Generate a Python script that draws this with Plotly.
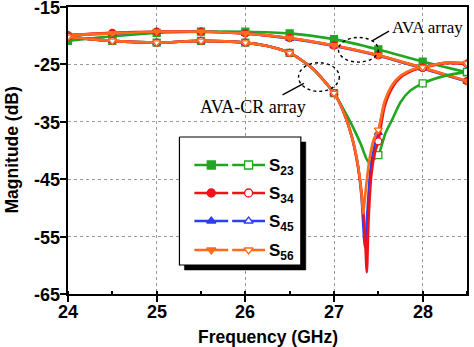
import plotly.graph_objects as go

# ---------------- data (frequency in GHz, magnitude in dB) ----------------
# AVA array (filled markers)
ava_freq = [24.0, 24.5, 25.0, 25.5, 26.0, 26.5, 27.0, 27.5, 28.0, 28.5]
ava_s23 = [-20.9, -20.1, -19.5, -19.3, -19.3, -19.6, -20.6, -22.4, -24.5, -26.4]
ava_s34 = [-19.9, -19.5, -19.3, -19.3, -19.6, -20.4, -21.7, -23.4, -25.6, -27.9]
ava_s45 = [-19.9, -19.6, -19.3, -19.3, -19.6, -20.5, -21.8, -23.5, -25.7, -28.0]
ava_s56 = [-19.9, -19.6, -19.3, -19.3, -19.6, -20.4, -21.7, -23.4, -25.6, -27.9]

# AVA-CR array (open markers)
cr_s23_freq = [24.0, 24.5, 25.0, 25.5, 26.0, 26.25, 26.5, 26.75, 27.0, 27.1, 27.2,
               27.3, 27.39, 27.45, 27.5, 27.58, 27.66, 27.75, 27.85, 28.0, 28.25, 28.5]
cr_s23 = [-20.2, -20.9, -21.2, -20.9, -21.2, -21.8, -23.0, -25.6, -30.0, -32.6, -35.5,
          -38.8, -42.0, -41.5, -40.8, -37.0, -34.5, -31.6, -29.7, -28.3, -27.0, -26.3]

cr_s34_freq = [24.0, 24.5, 25.0, 25.5, 26.0, 26.25, 26.5, 26.75, 27.0, 27.1, 27.2,
               27.27, 27.32, 27.35, 27.37, 27.39, 27.42, 27.46, 27.5, 27.57, 27.66,
               27.75, 27.9, 28.0, 28.25, 28.5]
cr_s34 = [-20.2, -20.9, -21.2, -20.9, -21.2, -21.8, -23.0, -25.6, -30.0, -33.0, -37.6,
          -42.8, -48.5, -55.0, -61.2, -52.0, -44.5, -40.4, -38.4, -32.4, -29.0,
          -27.3, -26.0, -25.6, -24.8, -24.9]

cr_s45_freq = [24.0, 24.5, 25.0, 25.5, 26.0, 26.25, 26.5, 26.75, 27.0, 27.1, 27.2,
               27.27, 27.31, 27.35, 27.38, 27.41, 27.46, 27.5, 27.57, 27.66, 27.75,
               27.9, 28.0, 28.25, 28.5]
cr_s45 = [-20.2, -20.9, -21.2, -20.9, -21.2, -21.8, -23.0, -25.6, -30.0, -33.0, -37.5,
          -42.6, -48.0, -56.9, -50.0, -43.5, -39.0, -36.9, -31.8, -28.7, -27.1,
          -25.9, -25.5, -24.7, -24.8]

cr_s56_freq = [24.0, 24.5, 25.0, 25.5, 26.0, 26.25, 26.5, 26.75, 27.0, 27.1, 27.2,
               27.27, 27.31, 27.33, 27.36, 27.4, 27.45, 27.5, 27.57, 27.66, 27.75,
               27.9, 28.0, 28.25, 28.5]
cr_s56 = [-20.2, -20.9, -21.2, -20.9, -21.2, -21.8, -23.0, -25.6, -30.0, -33.0, -37.5,
          -42.5, -47.5, -51.0, -46.5, -41.5, -38.0, -36.4, -31.5, -28.5, -27.0,
          -25.8, -25.5, -24.7, -24.8]

series_names = ["S<sub>23</sub>", "S<sub>34</sub>", "S<sub>45</sub>", "S<sub>56</sub>"]
x_ticks = [24, 25, 26, 27, 28]
y_ticks = [-15, -25, -35, -45, -55, -65]

# ---------------- styles ----------------
colors = ["#22a622", "#f2111b", "#2b3ff0", "#ff6a1c"]
symbols = ["square", "circle", "triangle-up", "triangle-down"]
LINE_W = 2.6
MK = 7
SANS = "Liberation Sans"
SERIF = "Liberation Serif"

fig = go.Figure()


def marker_points(xs, ys):
    """Markers sit on the 0.5 GHz sampling grid."""
    pts = [(x, y) for x, y in zip(xs, ys) if abs(x * 2 - round(x * 2)) < 1e-9]
    return [p[0] for p in pts], [p[1] for p in pts]


def add_series(xs, ys, color, symbol, filled):
    fig.add_trace(go.Scatter(x=xs, y=ys, mode="lines",
                             line=dict(color=color, width=LINE_W, shape="spline", smoothing=0.7),
                             hoverinfo="skip", showlegend=False))
    mx, my = marker_points(xs, ys)
    fig.add_trace(go.Scatter(
        x=mx, y=my, mode="markers", showlegend=False,
        marker=dict(symbol=symbol, size=MK,
                    color=color if filled else "white",
                    line=dict(color=color, width=1.3))))


order = [0, 2, 1, 3]
ava_sets = [ava_s23, ava_s34, ava_s45, ava_s56]
for i in order:
    add_series(ava_freq, ava_sets[i], colors[i], symbols[i], True)

cr_sets = [(cr_s23_freq, cr_s23), (cr_s34_freq, cr_s34), (cr_s45_freq, cr_s45), (cr_s56_freq, cr_s56)]
for i in order:
    xs, ys = cr_sets[i]
    add_series(xs, ys, colors[i], symbols[i], False)

# ---------------- annotations: ellipses + pointers ----------------
dash_style = dict(color="black", width=1.4, dash="dot")
fig.add_shape(type="circle", xref="x", yref="y", x0=27.05, x1=27.5, y0=-24.6, y1=-20.3,
              line=dash_style)
fig.add_shape(type="circle", xref="x", yref="y", x0=26.6, x1=27.06, y0=-29.7, y1=-24.7,
              line=dash_style)
fig.add_shape(type="line", xref="x", yref="y", x0=27.43, y0=-20.9, x1=27.62, y1=-19.2,
              line=dict(color="black", width=1.4))
fig.add_shape(type="line", xref="x", yref="y", x0=26.66, y0=-28.3, x1=26.42, y1=-30.3,
              line=dict(color="black", width=1.4))

fig.add_annotation(x=28.06, y=-18.6, xref="x", yref="y", text="AVA array", showarrow=False,
                   font=dict(family=SERIF, size=17, color="black"))
fig.add_annotation(x=26.09, y=-32.4, xref="x", yref="y", text="AVA-CR array", showarrow=False,
                   font=dict(family=SERIF, size=18, color="black"))

# ---------------- legend panel (pixel-coordinate overlay axes) ----------------
PX_L, PX_R, PX_T, PX_B = 68, 469, 7, 294
box = dict(x0=180, x1=302, y0=137, y1=265)
shadow = 5


def rect_trace(x0, x1, y0, y1, fill, edge, width):
    return go.Scatter(x=[x0, x1, x1, x0, x0], y=[y0, y0, y1, y1, y0],
                      xaxis="x2", yaxis="y2", mode="lines", fill="toself",
                      fillcolor=fill, line=dict(color=edge, width=width),
                      hoverinfo="skip", showlegend=False)


fig.add_trace(rect_trace(box["x0"] + shadow, box["x1"] + shadow,
                         box["y0"] + shadow, box["y1"] + shadow, "black", "black", 0.5))
fig.add_trace(rect_trace(box["x0"], box["x1"], box["y0"], box["y1"], "white", "black", 1.2))

row_y = [165, 193, 221, 250]
seg_filled = (195, 229)
seg_open = (233, 266)
for i in range(4):
    y = row_y[i]
    for (a, b), filled in ((seg_filled, True), (seg_open, False)):
        fig.add_trace(go.Scatter(
            x=[a, b], y=[y, y], xaxis="x2", yaxis="y2",
            mode="lines", line=dict(color=colors[i], width=LINE_W),
            hoverinfo="skip", showlegend=False))
        fig.add_trace(go.Scatter(
            x=[(a + b) / 2], y=[y], xaxis="x2", yaxis="y2", mode="markers",
            marker=dict(symbol=symbols[i], size=MK + 1,
                        color=colors[i] if filled else "white",
                        line=dict(color=colors[i], width=1.3)),
            hoverinfo="skip", showlegend=False))
    fig.add_annotation(x=268, y=y + 2, xref="x2", yref="y2", text="<b>" + series_names[i] + "</b>",
                       showarrow=False, xanchor="left", yanchor="middle",
                       font=dict(family=SANS, size=17, color="black"))

# ---------------- axes ----------------
fig.update_layout(
    width=474, height=347,
    margin=dict(l=PX_L, r=474 - PX_R, t=PX_T, b=347 - PX_B),
    paper_bgcolor="white", plot_bgcolor="white",
    xaxis=dict(range=[24, 28.5], tickvals=x_ticks, showticklabels=False,
               ticks="outside", ticklen=6, tickwidth=2, tickcolor="black",
               showline=True, linecolor="black", linewidth=2, mirror=True,
               showgrid=True, gridcolor="#9a9a9a", griddash="dot", gridwidth=1,
               minor=dict(dtick=0.5, ticks="inside", ticklen=3, tickcolor="black", showgrid=False),
               zeroline=False),
    yaxis=dict(range=[-65, -15], tickvals=y_ticks, showticklabels=False,
               ticks="outside", ticklen=6, tickwidth=2, tickcolor="black",
               showline=True, linecolor="black", linewidth=2, mirror=True,
               showgrid=True, gridcolor="#9a9a9a", griddash="dot", gridwidth=1,
               zeroline=False),
    xaxis2=dict(range=[PX_L, PX_R], domain=[0, 1], overlaying="x", visible=False, anchor="y2"),
    yaxis2=dict(range=[PX_B, PX_T], domain=[0, 1], overlaying="y", visible=False, anchor="x2"),
)

# tick labels
tick_font = dict(family=SANS, size=18, color="black")
for v in x_ticks:
    fig.add_annotation(x=v, y=0, xref="x", yref="paper", yshift=-18, showarrow=False,
                       text="<b>%d</b>" % v, yanchor="middle", font=tick_font)
for v in y_ticks:
    fig.add_annotation(x=0, y=v, xref="paper", yref="y", xshift=-6, yshift=-1, showarrow=False,
                       text="<b>%d</b>" % v, xanchor="right", yanchor="middle", font=tick_font)

# axis titles
title_font = dict(family=SANS, size=17.5, color="black")
fig.add_annotation(x=0.5, y=0, xref="paper", yref="paper", yshift=-43, showarrow=False,
                   text="<b>Frequency (GHz)</b>", yanchor="middle", font=title_font)
fig.add_annotation(x=0, y=0.5, xref="paper", yref="paper", xshift=-57, showarrow=False,
                   text="<b>Magnitude (dB)</b>", textangle=-90, xanchor="center",
                   font=title_font)

fig.write_html("out.html")
